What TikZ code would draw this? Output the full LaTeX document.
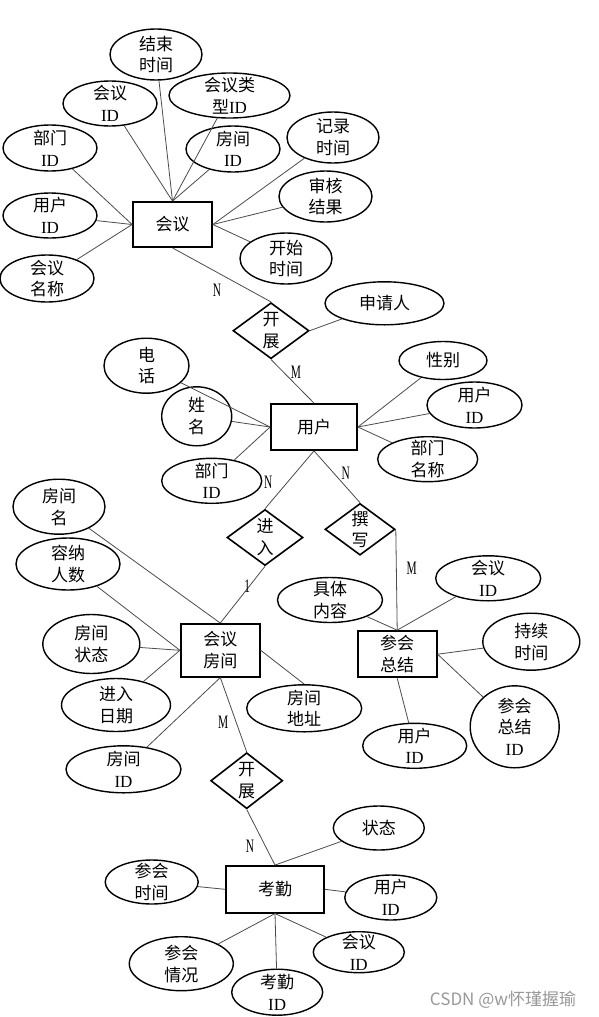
\documentclass[tikz,border=0pt]{standalone}
\usepackage{fontspec}
\usepackage{graphicx}
\setmainfont{Noto Sans CJK SC}
\newfontfamily\lat{Liberation Serif}
\newfontfamily\wmfont{Noto Sans CJK SC Light}
\usetikzlibrary{shapes.geometric}
\newcommand\zhfont{\fontsize{17pt}{21.7pt}\selectfont}
\newcommand\ID{{\lat ID}}
\newcommand\cardtxt[1]{\scalebox{0.6}[1]{#1}}
\tikzset{
  attr/.style={ellipse, draw, line width=1.4pt, inner sep=0pt},
  ent/.style={rectangle, draw, line width=1.8pt, inner sep=0pt, align=center, font=\zhfont},
  rel/.style={diamond, draw, line width=1.6pt, inner sep=0pt},
  lbl/.style={align=center, inner sep=0pt, font=\zhfont},
  conn/.style={line width=0.8pt, black!70},
  card/.style={inner sep=0pt, font=\lat\fontsize{19pt}{19pt}\selectfont},
  wmark/.style={inner sep=0pt, text=black!40, font=\fontsize{17pt}{17pt}\selectfont},
}
\newcommand\attrnode[5]{\node[attr, minimum width=#4pt, minimum height=#5pt, label={[lbl]center:{#2}}] (#1) at (#3) {};}
\newcommand\relnode[5]{\node[rel, minimum width=#4pt, minimum height=#5pt, label={[lbl]center:{#2}}] (#1) at (#3) {};}
\begin{document}
\begin{tikzpicture}[x=1pt,y=-1pt]
\fill[white] (0,0) rectangle (598,1017);
\useasboundingbox (0,0) rectangle (598,1017);

% entities
\node[ent, minimum width=79pt, minimum height=45pt] (hy) at (172.5,224.5) {会议};
\node[ent, minimum width=86pt, minimum height=46pt] (yh) at (314,427) {用户};
\node[ent, minimum width=79pt, minimum height=52.7pt] (hyfj) at (220.3,650.3) {会议\\房间};
\node[ent, minimum width=79pt, minimum height=46.3pt] (chzj) at (397.2,654.2) {参会\\总结};
\node[ent, minimum width=98pt, minimum height=46.7pt] (kq) at (275,889.3) {考勤};

% relations
\relnode{kzA}{开\\展}{271,330.7}{76}{56}
\relnode{jr}{进\\入}{265,537.5}{76}{56}
\relnode{zx}{撰\\写}{360,529.3}{70}{51.7}
\relnode{kzB}{开\\展}{246.7,780.7}{72}{56}

% attributes of 会议
\attrnode{jssj}{结束\\时间}{156,54.5}{92}{51}
\attrnode{hyidA}{会议\\\ID}{110,103.5}{94}{45}
\attrnode{hylx}{会议类\\型\ID}{229.5,95.5}{121}{45}
\attrnode{bmidA}{部门\\\ID}{50,148}{94}{46}
\attrnode{fjidA}{房间\\\ID}{233,149}{94}{46}
\attrnode{jlsj}{记录\\时间}{333,137.5}{92}{51}
\attrnode{shjg}{审核\\结果}{325.5,196.5}{93}{51}
\attrnode{yhidA}{用户\\\ID}{50,215.5}{94}{45}
\attrnode{kssj}{开始\\时间}{286,258.5}{92}{51}
\attrnode{hymc}{会议\\名称}{47,278.5}{94}{47}
\attrnode{sqr}{申请人}{384.5,303.3}{119}{43}

% attributes of 用户
\attrnode{dh}{电\\话}{146.5,365.7}{85}{55}
\attrnode{xm}{姓\\名}{196.7,416.3}{70}{59}
\attrnode{bmidB}{部门\\\ID}{211.7,480.8}{100}{45}
\attrnode{xb}{性别}{443,360.5}{88}{38}
\attrnode{yhidB}{用户\\\ID}{474.5,405}{95}{46}
\attrnode{bmmc}{部门\\名称}{427.7,459.2}{100}{45}

% attributes of 会议房间
\attrnode{fjm}{房间\\名}{59,506.7}{92}{55}
\attrnode{rnrs}{容纳\\人数}{68,564}{104}{52}
\attrnode{fjzt}{房间\\状态}{91.3,644}{97}{59}
\attrnode{jrrq}{进入\\日期}{116,705}{109}{53}
\attrnode{fjidB}{房间\\\ID}{123.5,769.3}{115}{47}
\attrnode{fjdz}{房间\\地址}{304.2,708.3}{115}{47}

% attributes of 参会总结
\attrnode{jtnr}{具体\\内容}{330,600}{105}{45}
\attrnode{hyidB}{会议\\\ID}{488.2,578.3}{105}{45}
\attrnode{cxsj}{持续\\时间}{531.3,641.7}{97}{57}
\attrnode{chzjid}{参会\\总结\\\ID}{514.7,726.8}{89}{82}
\attrnode{yhidC}{用户\\\ID}{414.7,745.8}{104}{45}

% attributes of 考勤
\attrnode{zt}{状态}{378.8,828}{91}{44}
\attrnode{chsj}{参会\\时间}{151.7,882}{93}{44}
\attrnode{yhidD}{用户\\\ID}{390.8,897.5}{92}{45}
\attrnode{hyidC}{会议\\\ID}{358.8,952.2}{91}{41}
\attrnode{chqk}{参会\\情况}{181.3,963.7}{104}{54}
\attrnode{kqid}{考勤\\\ID}{277.2,992.2}{91}{46}

% connectors: 会议
\draw[conn] (hy.north) -- (jssj);
\draw[conn] (hy.north) -- (hyidA);
\draw[conn] (hy.north) -- (hylx);
\draw[conn] (hy.north) -- (fjidA);
\draw[conn] (hy.west) -- (bmidA);
\draw[conn] (hy.west) -- (yhidA);
\draw[conn] (hy.west) -- (hymc);
\draw[conn] (hy.east) -- (jlsj);
\draw[conn] (hy.east) -- (shjg);
\draw[conn] (hy.east) -- (kssj);
\draw[conn] (hy.south) -- (kzA.north);
\draw[conn] (kzA.east) -- (sqr);
\draw[conn] (kzA.south) -- (yh.north);

% 用户
\draw[conn] (yh.west) -- (dh);
\draw[conn] (yh.west) -- (xm);
\draw[conn] (yh.west) -- (bmidB);
\draw[conn] (yh.east) -- (xb);
\draw[conn] (yh.east) -- (yhidB);
\draw[conn] (yh.east) -- (bmmc);
\draw[conn] (yh.south) -- (jr.north);
\draw[conn] (yh.south) -- (zx.north);
\draw[conn] (jr.south) -- (hyfj.north);
\draw[conn] (zx.east) -- (chzj.north);

% 会议房间
\draw[conn] (hyfj.north) -- (fjm);
\draw[conn] (hyfj.west) -- (rnrs);
\draw[conn] (hyfj.west) -- (fjzt);
\draw[conn] (hyfj.west) -- (jrrq);
\draw[conn] (hyfj.south) -- (fjidB);
\draw[conn] (hyfj.east) -- (fjdz.north);
\draw[conn] (hyfj.south) -- (kzB.north);

% 参会总结
\draw[conn] (chzj.north) -- (jtnr);
\draw[conn] (chzj.north) -- (hyidB);
\draw[conn] (chzj.east) -- (cxsj);
\draw[conn] (chzj.east) -- (chzjid);
\draw[conn] (chzj.south) -- (yhidC);

% 考勤
\draw[conn] (kzB.south) -- (kq.north);
\draw[conn] (kq.north) -- (zt);
\draw[conn] (kq.west) -- (chsj);
\draw[conn] (kq.east) -- (yhidD);
\draw[conn] (kq.south) -- (chqk);
\draw[conn] (kq.south) -- (kqid);
\draw[conn] (kq.south) -- (hyidC);

% cardinalities
\node[card] (cA) at (217,290) {\cardtxt{N}};
\node[card] (cB) at (296,372) {\cardtxt{M}};
\node[card] (cC) at (268.3,482.3) {\cardtxt{N}};
\node[card] (cD) at (345.7,473.3) {\cardtxt{N}};
\node[card] (cE) at (247.3,586.7) {\cardtxt{1}};
\node[card] (cF) at (411.7,568.3) {\cardtxt{M}};
\node[card] (cG) at (223.3,722.3) {\cardtxt{M}};
\node[card] (cH) at (250,846) {\cardtxt{N}};

% watermark
\node[wmark] (wm) at (503,1000) {CSDN @w怀瑾握瑜};
\end{tikzpicture}
\end{document}
